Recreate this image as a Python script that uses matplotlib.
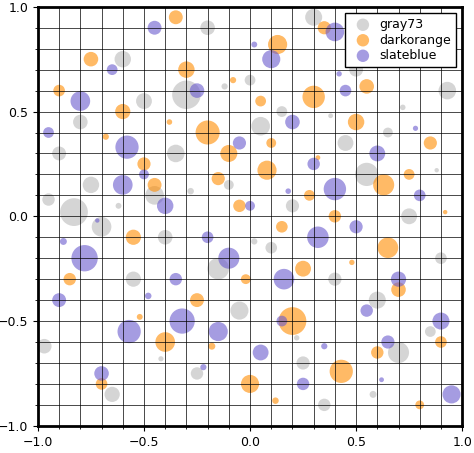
import numpy as np
import matplotlib.pyplot as plt

# values (x, y, marker size)
gray_x = [-0.83, -0.3, 0.05, -0.15, 0.55, 0.3, 0.7, 0.93, -0.97, -0.6, -0.45, 0.2, -0.05, 0.45, 0.8, -0.7, -0.2, 0.1, 0.6, -0.9, -0.55, 0.35, -0.35, 0.0, 0.75, -0.8, 0.25, -0.1, 0.5, -0.65, 0.9, -0.25, 0.15, -0.5, 0.65, -0.4, 0.4, -0.75, 0.85, -0.95,
          -0.12, 0.22, 0.58, -0.62, 0.38, -0.28, 0.72, -0.42, 0.02, 0.88]
gray_y = [0.02, 0.58, 0.43, -0.25, 0.2, 0.95, -0.65, 0.6, -0.62, 0.75, 0.1, 0.05, -0.45, 0.35, 0.85, -0.05, 0.9, -0.15, -0.4, 0.3, -0.3, -0.9, 0.3, 0.65, 0.0, 0.45, -0.7, 0.15, 0.7, -0.85, -0.2, -0.75, 0.5, 0.55, 0.4, -0.1, -0.3, 0.15, -0.55, 0.08,
          0.62, -0.58, -0.85, 0.05, 0.48, 0.12, 0.52, -0.68, -0.12, 0.22]
gray_s = [400, 420, 180, 240, 280, 150, 230, 160, 110, 140, 180, 90, 170, 130, 80, 200, 110, 70, 150, 100, 120, 80, 160, 60, 130, 110, 90, 50, 100, 120, 70, 80, 60, 130, 50, 110, 90, 140, 60, 80,
          20, 15, 25, 18, 12, 22, 16, 14, 20, 10]

orange_x = [0.2, 0.43, -0.2, 0.3, 0.63, 0.65, -0.3, 0.13, -0.4, 0.0, 0.08, -0.75, -0.1, 0.5, -0.55, 0.85, 0.25, -0.45, 0.7, -0.05, 0.35, -0.6, 0.15, -0.25, 0.55, -0.85, 0.05, -0.15, 0.9, 0.4, -0.35, 0.75, -0.7, 0.1, 0.6, -0.5, 0.28, -0.02, 0.8, -0.9,
            -0.68, 0.48, -0.18, 0.32, -0.52, 0.68, 0.12, -0.38, 0.92, -0.08]
orange_y = [-0.5, -0.74, 0.4, 0.57, 0.15, -0.15, 0.7, 0.82, -0.6, -0.8, 0.22, 0.75, 0.3, 0.45, -0.1, 0.35, -0.25, 0.15, -0.35, 0.05, 0.9, 0.5, -0.05, -0.4, 0.62, -0.3, 0.55, 0.18, -0.6, 0.0, 0.95, 0.2, -0.8, 0.35, -0.65, 0.25, 0.1, -0.3, -0.9, 0.6,
            0.38, -0.22, -0.62, 0.28, -0.48, 0.72, -0.88, 0.45, 0.02, 0.65]
orange_s = [400, 280, 300, 260, 230, 220, 140, 190, 200, 170, 190, 110, 150, 140, 120, 90, 130, 100, 110, 80, 90, 120, 70, 100, 110, 80, 60, 90, 70, 80, 100, 60, 70, 50, 80, 90, 60, 50, 40, 70,
            20, 15, 25, 12, 18, 14, 22, 16, 10, 20]

blue_x = [-0.78, -0.32, -0.57, -0.58, 0.4, 0.32, -0.1, 0.16, -0.6, 0.4, -0.8, 0.1, 0.9, 0.95, -0.15, 0.6, -0.4, 0.2, -0.9, 0.7, -0.25, 0.05, 0.5, -0.7, 0.3, -0.45, 0.8, -0.05, 0.25, -0.2, 0.65, -0.95, 0.45, -0.35, 0.0, 0.85, -0.65, 0.55, -0.5, 0.15,
          -0.22, 0.42, -0.88, 0.62, 0.02, -0.48, 0.78, 0.18, -0.72, 0.35]
blue_y = [-0.2, -0.5, -0.55, 0.33, 0.13, -0.1, -0.2, -0.3, 0.15, 0.88, 0.55, 0.75, -0.5, -0.85, -0.55, 0.3, 0.05, 0.45, -0.4, -0.3, 0.6, -0.65, -0.05, -0.75, 0.25, 0.9, 0.1, 0.35, -0.8, -0.1, -0.6, 0.4, 0.6, -0.3, 0.05, 0.75, 0.7, -0.45, 0.2, -0.5,
          -0.72, 0.68, -0.12, -0.78, 0.82, -0.38, 0.42, 0.12, -0.02, -0.62]
blue_s = [360, 330, 280, 280, 260, 240, 230, 220, 200, 180, 200, 170, 150, 170, 190, 130, 140, 110, 100, 120, 110, 130, 90, 110, 80, 100, 70, 90, 80, 70, 90, 60, 70, 80, 50, 70, 60, 80, 50, 60,
          20, 15, 25, 12, 18, 22, 14, 16, 10, 20]

fig, ax = plt.subplots(figsize=(4.74, 4.53), dpi=100)
ax.scatter(gray_x, gray_y, s=gray_s, color="#bababa", alpha=0.6, edgecolors="none", label="gray73")
ax.scatter(orange_x, orange_y, s=orange_s, color="darkorange", alpha=0.6, edgecolors="none", label="darkorange")
ax.scatter(blue_x, blue_y, s=blue_s, color="slateblue", alpha=0.6, edgecolors="none", label="slateblue")

ax.set_xlim(-1, 1)
ax.set_ylim(-1, 1)
ax.set_xticks(np.arange(-1, 1.01, 0.5))
ax.set_yticks(np.arange(-1, 1.01, 0.5))
ax.set_xticks(np.arange(-1, 1.01, 0.1), minor=True)
ax.set_yticks(np.arange(-1, 1.01, 0.1), minor=True)
ax.grid(which="both", color="black", linewidth=0.5)
ax.set_axisbelow(False)
for sp in ax.spines.values():
    sp.set_linewidth(2)
ax.tick_params(labelsize=9, direction="out")
ax.set_xticklabels(["\u22121.0", "\u22120.5", "0.0", "0.5", "1.0"])
ax.set_yticklabels(["\u22121.0", "\u22120.5", "0.0", "0.5", "1.0"])

leg = ax.legend(loc="upper right", fontsize=9, frameon=True, fancybox=False,
                edgecolor="black", framealpha=1, handletextpad=0.3,
                borderpad=0.4, labelspacing=0.2)
for h in leg.legend_handles:
    h.set_sizes([80])

fig.subplots_adjust(left=0.08, right=0.975, top=0.985, bottom=0.06)
fig.savefig("out.png")
